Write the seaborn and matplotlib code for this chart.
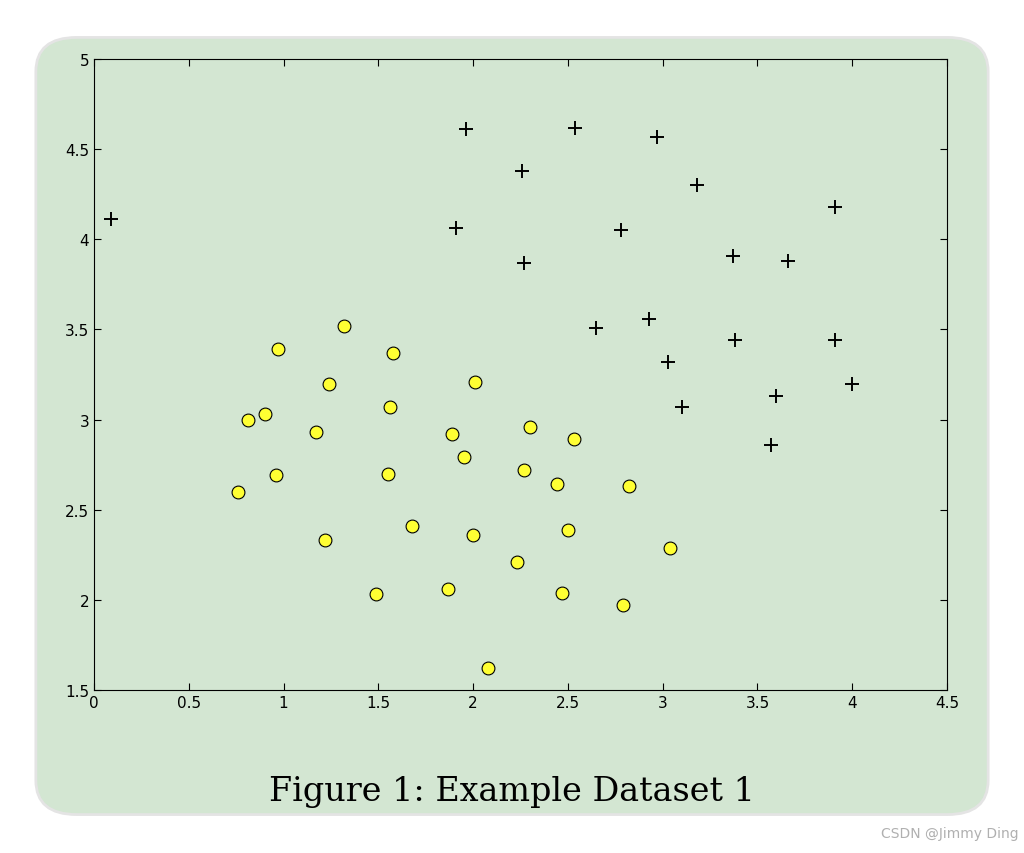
import numpy as np
import pandas as pd
import seaborn as sns
import matplotlib.pyplot as plt
from matplotlib.patches import FancyBboxPatch

# Positive class (+)
pos_x = [0.09, 1.96, 2.54, 2.26, 2.97, 3.18, 1.91, 2.27, 2.78, 3.37, 3.66,
         3.91, 2.65, 2.93, 3.03, 3.38, 3.10, 3.60, 3.57, 3.91, 4.00]
pos_y = [4.11, 4.61, 4.62, 4.38, 4.57, 4.30, 4.06, 3.87, 4.05, 3.91, 3.88,
         4.18, 3.51, 3.56, 3.32, 3.44, 3.07, 3.13, 2.86, 3.44, 3.20]

# Negative class (o)
neg_x = [1.32, 0.97, 1.58, 1.24, 2.01, 0.81, 0.90, 1.17, 1.56, 1.89, 2.30,
         2.53, 1.95, 0.76, 0.96, 1.55, 2.27, 2.44, 2.82, 1.68, 1.22, 2.00,
         2.50, 3.04, 2.23, 1.49, 1.87, 2.47, 2.79, 2.08]
neg_y = [3.52, 3.39, 3.37, 3.20, 3.21, 3.00, 3.03, 2.93, 3.07, 2.92, 2.96,
         2.89, 2.79, 2.60, 2.69, 2.70, 2.72, 2.64, 2.63, 2.41, 2.33, 2.36,
         2.39, 2.29, 2.21, 2.03, 2.06, 2.04, 1.97, 1.62]

green = '#d3e6d2'
fig = plt.figure(figsize=(10.24, 8.54), dpi=100)
fig.patch.set_facecolor('white')
box = FancyBboxPatch((0.035, 0.045), 0.93, 0.91, boxstyle='round,pad=0,rounding_size=0.04',
                     transform=fig.transFigure, facecolor=green, edgecolor='#e4e4e4',
                     linewidth=2, zorder=-5)
fig.patches.append(box)

ax = fig.add_axes([94/1024, 1-691/854, 853/1024, 631/854])
ax.set_zorder(2)
ax.set_facecolor(green)
sns.scatterplot(x=pos_x, y=pos_y, marker='+', color='black', s=90, linewidth=1.4, ax=ax)
sns.scatterplot(x=neg_x, y=neg_y, marker='o', color='#ffff33', edgecolor='black', s=85,
                linewidth=0.8, ax=ax)
ax.set_xlim(0, 4.5)
ax.set_ylim(1.5, 5)
ax.set_xticks(np.arange(0, 4.51, 0.5))
ax.set_yticks(np.arange(1.5, 5.01, 0.5))
ax.set_xticklabels(['0', '0.5', '1', '1.5', '2', '2.5', '3', '3.5', '4', '4.5'])
ax.set_yticklabels(['1.5', '2', '2.5', '3', '3.5', '4', '4.5', '5'])
ax.tick_params(direction='in', labelsize=11, length=5)
ax.tick_params(top=True, right=True)
for s in ax.spines.values():
    s.set_linewidth(0.8)

fig.text(0.5, 1-792/854, 'Figure 1: Example Dataset 1', ha='center', va='center',
         fontsize=24, family='DejaVu Serif')
fig.text(0.995, 1-834/854, 'CSDN @Jimmy Ding', ha='right', va='center', fontsize=10, color='#b0b0b0')

fig.savefig('out.png', dpi=100)
